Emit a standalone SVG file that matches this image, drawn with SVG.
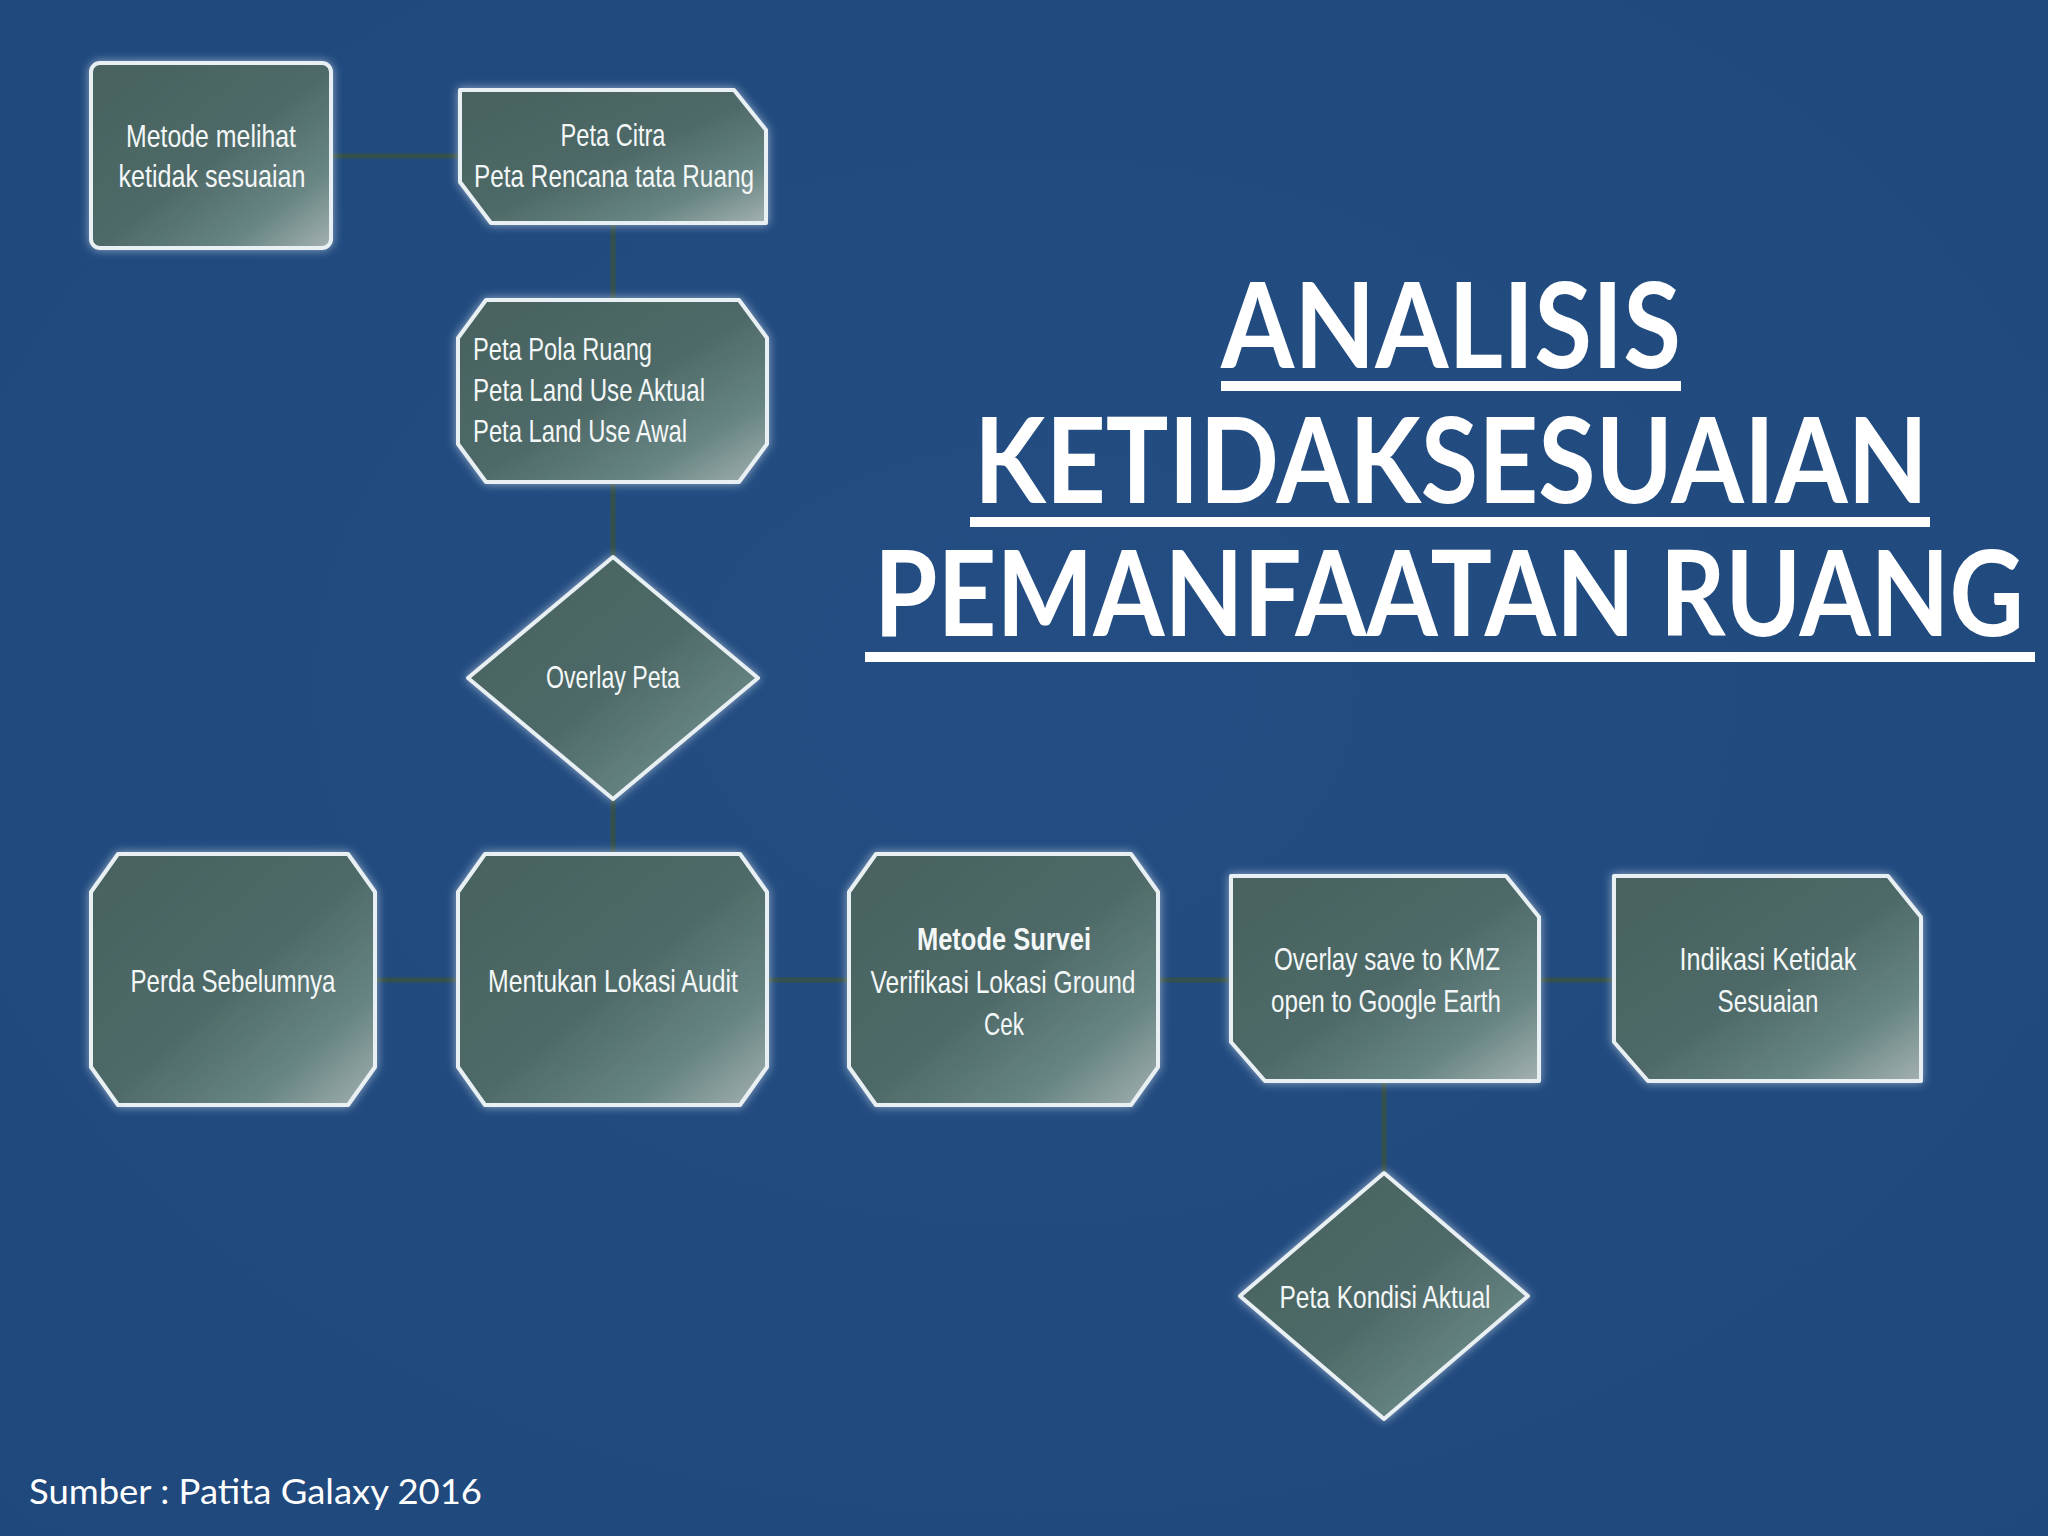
<svg xmlns="http://www.w3.org/2000/svg" width="2048" height="1536" viewBox="0 0 2048 1536">
  <defs>
    <radialGradient id="bg" cx="0.5" cy="0.45" r="0.75">
      <stop offset="0" stop-color="#244e83"/>
      <stop offset="1" stop-color="#1f487c"/>
    </radialGradient>
    <linearGradient id="nodeFill" x1="0" y1="0" x2="1" y2="1">
      <stop offset="0" stop-color="#48625f"/>
      <stop offset="0.5" stop-color="#4d6967"/>
      <stop offset="0.78" stop-color="#678583"/>
      <stop offset="1" stop-color="#a4b1b1"/>
    </linearGradient>
    <filter id="glow" x="-10%" y="-10%" width="120%" height="120%">
      <feGaussianBlur in="SourceAlpha" stdDeviation="5" result="b"/>
      <feFlood flood-color="#dfe9f3" flood-opacity="0.6"/>
      <feComposite in2="b" operator="in" result="g"/>
      <feMerge>
        <feMergeNode in="g"/>
        <feMergeNode in="SourceGraphic"/>
      </feMerge>
    </filter>
    <style>
      .shape { fill: url(#nodeFill); stroke: #e9f0f3; stroke-width: 4; stroke-linejoin: round; filter: url(#glow); }
      .t { font-family: "Liberation Sans Narrow", "Liberation Sans", Arial, sans-serif; font-size: 32px; fill: #f4f7f7; }
      .tb { font-weight: bold; }
      .c { text-anchor: middle; }
      .conn { stroke: #34504d; stroke-width: 5; fill: none; }
      .title { font-family: Lato, "Open Sans", "Liberation Sans", sans-serif; font-weight: bold; font-size: 100px; fill: #ffffff; text-anchor: middle; }
      .ul { fill: #ffffff; }
      .foot { font-family: Lato, "Open Sans", "Liberation Sans", sans-serif; font-size: 34px; fill: #ffffff; }
    </style>
  </defs>

  <rect x="0" y="0" width="2048" height="1536" fill="url(#bg)"/>

  <g id="connectors">
    <line class="conn" x1="330" y1="156" x2="460" y2="156"/>
    <line class="conn" x1="613" y1="223" x2="613" y2="300"/>
    <line class="conn" x1="613" y1="482" x2="613" y2="557"/>
    <line class="conn" x1="613" y1="799" x2="613" y2="854"/>
    <line class="conn" x1="375" y1="980" x2="458" y2="980"/>
    <line class="conn" x1="767" y1="980" x2="849" y2="980"/>
    <line class="conn" x1="1158" y1="980" x2="1231" y2="980"/>
    <line class="conn" x1="1539" y1="980" x2="1614" y2="980"/>
    <line class="conn" x1="1384" y1="1081" x2="1384" y2="1173"/>
  </g>

  <g id="node-metode-melihat">
    <rect class="shape" x="91" y="63" width="240" height="185" rx="9"/>
    <text class="t c" x="211" y="147" textLength="170" lengthAdjust="spacingAndGlyphs">Metode melihat</text>
    <text class="t c" x="212" y="187" textLength="187" lengthAdjust="spacingAndGlyphs">ketidak sesuaian</text>
  </g>

  <g id="node-peta-citra">
    <polygon class="shape" points="460,90 734,90 766,130 766,223 491,223 460,182"/>
    <text class="t c" x="613" y="146" textLength="105" lengthAdjust="spacingAndGlyphs">Peta Citra</text>
    <text class="t c" x="614" y="187" textLength="280" lengthAdjust="spacingAndGlyphs">Peta Rencana tata Ruang</text>
  </g>

  <g id="node-peta-pola">
    <polygon class="shape" points="486,300 739,300 767,338 767,444 739,482 486,482 458,444 458,338"/>
    <text class="t" x="473" y="360" textLength="179" lengthAdjust="spacingAndGlyphs">Peta Pola Ruang</text>
    <text class="t" x="473" y="401" textLength="232" lengthAdjust="spacingAndGlyphs">Peta Land Use Aktual</text>
    <text class="t" x="473" y="442" textLength="214" lengthAdjust="spacingAndGlyphs">Peta Land Use Awal</text>
  </g>

  <g id="node-overlay-peta">
    <polygon class="shape" points="613,557 758,678 613,799 468,678"/>
    <text class="t c" x="613" y="688" textLength="134" lengthAdjust="spacingAndGlyphs">Overlay Peta</text>
  </g>

  <g id="node-perda">
    <polygon class="shape" points="118,854 348,854 375,892 375,1067 348,1105 118,1105 91,1067 91,892"/>
    <text class="t c" x="233" y="992" textLength="205" lengthAdjust="spacingAndGlyphs">Perda Sebelumnya</text>
  </g>

  <g id="node-mentukan">
    <polygon class="shape" points="485,854 740,854 767,892 767,1067 740,1105 485,1105 458,1067 458,892"/>
    <text class="t c" x="613" y="992" textLength="250" lengthAdjust="spacingAndGlyphs">Mentukan Lokasi Audit</text>
  </g>

  <g id="node-metode-survei">
    <polygon class="shape" points="876,854 1131,854 1158,892 1158,1067 1131,1105 876,1105 849,1067 849,892"/>
    <text class="t tb c" x="1004" y="950" textLength="174" lengthAdjust="spacingAndGlyphs">Metode Survei</text>
    <text class="t c" x="1003" y="993" textLength="265" lengthAdjust="spacingAndGlyphs">Verifikasi Lokasi Ground</text>
    <text class="t c" x="1004" y="1035" textLength="40" lengthAdjust="spacingAndGlyphs">Cek</text>
  </g>

  <g id="node-overlay-kmz">
    <polygon class="shape" points="1231,876 1506,876 1539,917 1539,1081 1265,1081 1231,1042"/>
    <text class="t c" x="1387" y="970" textLength="226" lengthAdjust="spacingAndGlyphs">Overlay save to KMZ</text>
    <text class="t c" x="1386" y="1012" textLength="230" lengthAdjust="spacingAndGlyphs">open to Google Earth</text>
  </g>

  <g id="node-indikasi">
    <polygon class="shape" points="1614,876 1888,876 1921,917 1921,1081 1648,1081 1614,1042"/>
    <text class="t c" x="1768" y="970" textLength="177" lengthAdjust="spacingAndGlyphs">Indikasi Ketidak</text>
    <text class="t c" x="1768" y="1012" textLength="101" lengthAdjust="spacingAndGlyphs">Sesuaian</text>
  </g>

  <g id="node-kondisi">
    <polygon class="shape" points="1384,1173 1528,1296 1384,1419 1240,1296"/>
    <text class="t c" x="1385" y="1308" textLength="211" lengthAdjust="spacingAndGlyphs">Peta Kondisi Aktual</text>
  </g>

  <g id="title">
    <text class="title" transform="translate(1451,368) scale(1,1.18)" x="0" y="0" textLength="460" lengthAdjust="spacingAndGlyphs">ANALISIS</text>
    <rect class="ul" x="1221" y="381" width="460" height="10"/>
    <text class="title" transform="translate(1451,503) scale(1,1.18)" x="0" y="0" textLength="954" lengthAdjust="spacingAndGlyphs">KETIDAKSESUAIAN</text>
    <rect class="ul" x="970" y="517" width="960" height="10"/>
    <text class="title" transform="translate(1449,636) scale(1,1.18)" x="0" y="0" textLength="1150" lengthAdjust="spacingAndGlyphs">PEMANFAATAN RUANG</text>
    <rect class="ul" x="865" y="652" width="1170" height="10"/>
  </g>

  <text class="foot" x="29" y="1504" textLength="453" lengthAdjust="spacingAndGlyphs">Sumber : Patita Galaxy 2016</text>
</svg>
